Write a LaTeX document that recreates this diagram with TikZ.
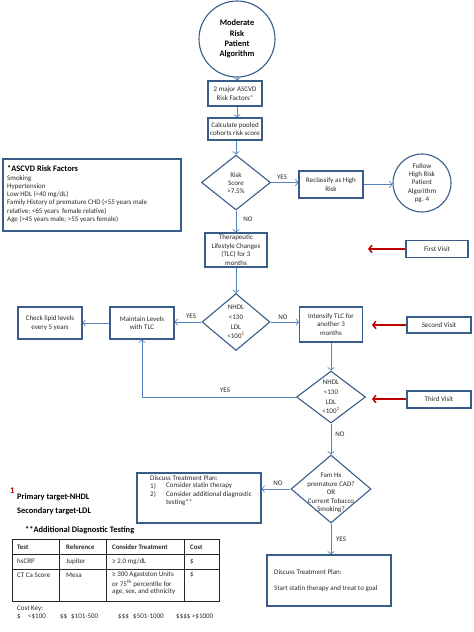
\documentclass[tikz,border=0pt]{standalone}
\usepackage{fontspec}
\setmainfont{Carlito}
\usetikzlibrary{shapes.geometric,arrows.meta}
\definecolor{boxc}{RGB}{56,93,138}
\definecolor{arrc}{RGB}{84,130,190}
\definecolor{redc}{RGB}{192,0,0}
\definecolor{txtc}{RGB}{40,40,40}
\begin{document}
\begin{tikzpicture}[x=1pt,y=-1pt,
  sm/.style={font=\fontsize{7}{8.4}\selectfont, text=txtc, inner sep=0pt},
  txt/.style={sm, align=center},
  boxn/.style={draw=boxc, line width=1.1pt, rectangle, inner sep=0pt, txt},
  circn/.style={draw=boxc, line width=1.1pt, circle, inner sep=0pt, txt},
  diam/.style={draw=boxc, line width=1.1pt, diamond, inner sep=0pt},
  arr/.style={draw=arrc, line width=0.7pt, -{Straight Barb[length=2.6pt,width=6.5pt]}},
  redarr/.style={draw=redc, line width=1.5pt, -{Straight Barb[length=3pt,width=7.5pt]}},
  lab/.style={sm},
  cell/.style={sm, anchor=west}
]
\useasboundingbox (0,0) rectangle (474,632);
% ---- main column
\node[circn, minimum size=76pt, font=\fontsize{8.4}{10.2}\selectfont\bfseries, text=black] (c1) at (237,39) {Moderate\\Risk\\Patient\\Algorithm};
\node[boxn, minimum width=54pt, minimum height=25pt] (b1) at (235,93.5) {2 major ASCVD\\Risk Factors*};
\node[boxn, minimum width=54pt, minimum height=22pt] (b2) at (235,129) {Calculate pooled\\cohorts risk score};
\node[diam, minimum width=69pt, minimum height=55pt] (d1) at (236,182.5) {};
\node[txt] at (236,183) {Risk\\Score\\>7.5\%};
\node[boxn, minimum width=64pt, minimum height=27pt] (b3) at (331,184.5) {Reclassify as High\\Risk};
\node[circn, minimum size=58pt] (c2) at (422,183) {Follow\\High Risk\\Patient\\Algorithm\\pg. 4};
\node[boxn, minimum width=62pt, minimum height=34pt, font=\fontsize{7}{8.7}\selectfont] (b4) at (236,250) {Therapeutic\\Lifestyle Changes\\(TLC) for 3\\months};
\node[diam, minimum width=68pt, minimum height=57pt] (d2) at (236,322) {};
\node[txt, font=\fontsize{7}{9.8}\selectfont] at (236,322) {NHDL\\<130\\LDL\\<100\textsuperscript{\color{redc}1}};
\node[boxn, minimum width=64pt, minimum height=32pt] (b5) at (142,323) {Maintain Levels\\with TLC};
\node[boxn, minimum width=64pt, minimum height=32pt] (b6) at (50,323) {Check lipid levels\\every 5 years};
\node[boxn, minimum width=63pt, minimum height=35pt] (b7) at (331,324.5) {Intensify TLC for\\another 3\\months};
\node[diam, minimum width=69pt, minimum height=52pt] (d3) at (331,397) {};
\node[txt, font=\fontsize{7}{9.8}\selectfont] at (331,397) {NHDL\\<130\\LDL\\<100\textsuperscript{\color{redc}1}};
\node[diam, minimum width=80pt, minimum height=68pt] (d4) at (331,489) {};
\node[txt, font=\fontsize{7}{8.6}\selectfont] at (331,493) {Fam Hx\\premature CAD?\\OR\\Current Tobacco\\Smoking?};
\node[boxn, minimum width=124pt, minimum height=50pt] (b8) at (199,498) {};
\node[cell] at (150,478) {Discuss Treatment Plan:};
\node[cell] at (150,486) {1)};
\node[cell] at (166,486) {Consider statin therapy};
\node[cell] at (150,494.5) {2)};
\node[cell] at (166,494.5) {Consider additional diagnostic};
\node[cell] at (166,503) {testing**};
\node[boxn, minimum width=124pt, minimum height=51pt] (b9) at (329,580.5) {};
\node[cell] at (274,572) {Discuss Treatment Plan:};
\node[cell] at (274,589) {Start statin therapy and treat to goal};
% ---- risk factor box
\node[boxn, minimum width=178pt, minimum height=72pt] (rf) at (92,195) {};
\node[anchor=west, inner sep=0pt, font=\fontsize{8.4}{10}\selectfont\bfseries] at (7,169) {*ASCVD Risk Factors};
\node[cell] at (7,178.3) {Smoking};
\node[cell] at (7,186.3) {Hypertension};
\node[cell] at (7,194.3) {Low HDL (<40 mg/dL)};
\node[cell] at (7,202.7) {Family History of premature CHD (<55 years male};
\node[cell] at (7,211.2) {relative; <65 years\ \ female relative)};
\node[cell] at (7,219.7) {Age (>45 years male; >55 years female)};
% ---- visit boxes
\node[boxn, minimum width=62pt, minimum height=17pt] (v1) at (437,249) {First Visit};
\node[boxn, minimum width=64pt, minimum height=16pt] (v2) at (439,325) {Second Visit};
\node[boxn, minimum width=64pt, minimum height=17pt] (v3) at (439,399.5) {Third Visit};
\coordinate (r1) at (368,249);
\coordinate (r2) at (372,325);
\coordinate (r3) at (372,399);
\draw[redarr] (v1.west) -- (r1);
\draw[redarr] (v2.west) -- (r2);
\draw[redarr] (v3.west |- r3) -- (r3);
% ---- connectors
\draw[arr] (c1.south) -- (c1.south |- b1.north);
\draw[arr] (b1.south -| c1.south) -- (c1.south |- b2.north);
\draw[arr] (b2.south -| d1.north) -- (d1.north);
\draw[arr] (d1.east) -- (d1.east -| b3.west);
\draw[arr] (b3.east) -- (b3.east -| c2.west);
\draw[arr] (d1.south) -- (d1.south |- b4.north);
\draw[arr] (b4.south -| d2.north) -- (d2.north);
\draw[arr] (d2.east) -- (d2.east -| b7.west);
\draw[arr] (d2.west) -- (d2.west -| b5.east);
\draw[arr] (b5.west) -- (b6.east);
\draw[arr] (b7.south -| d3.north) -- (d3.north);
\draw[arr] (d3.west) -| (b5.south);
\draw[arr] (d3.south) -- (d4.north);
\draw[arr] (d4.west) -- (d4.west -| b8.east);
\draw[arr] (d4.south) -- (d4.south |- b9.north);
% ---- connector labels
\node[lab] at (282,177.5) {YES};
\node[lab] at (248,219) {NO};
\node[lab] at (283,317) {NO};
\node[lab] at (191,316.5) {YES};
\node[lab] at (225,390) {YES};
\node[lab] at (340,434.5) {NO};
\node[lab] at (278,483) {NO};
\node[lab] at (341,539.5) {YES};
% ---- footnote and table
\node[anchor=west, inner sep=0pt, font=\fontsize{8.7}{10}\selectfont\bfseries, text=redc] at (10,491) {1};
\node[anchor=west, inner sep=0pt, font=\fontsize{8.4}{10}\selectfont\bfseries] at (17,497.5) {Primary target-NHDL};
\node[anchor=west, inner sep=0pt, font=\fontsize{8.4}{10}\selectfont\bfseries] at (17,511) {Secondary target-LDL};
\node[anchor=west, inner sep=0pt, font=\fontsize{8.4}{10}\selectfont\bfseries] at (25,530) {**Additional Diagnostic Testing};
\draw[line width=0.8pt, draw=black!85] (12,539) rectangle (219,601);
\draw[line width=0.8pt, draw=black!85] (12,554) -- (219,554) (12,569) -- (219,569);
\draw[line width=0.8pt, draw=black!85] (59,539) -- (59,601) (106,539) -- (106,601) (184,539) -- (184,601);
\begin{scope}[every node/.style={cell, font=\fontsize{6.8}{8}\selectfont\bfseries}]
\node at (17,547) {Test};
\node at (66,547) {Reference};
\node at (112,547) {Consider Treatment};
\node at (190,547) {Cost};
\end{scope}
\node[cell] at (17,561.5) {hsCRP};
\node[cell] at (66,561.5) {Jupiter};
\node[cell] at (112,561.5) {≥ 2.0 mg/dL};
\node[cell] at (190,561.5) {\$};
\node[cell] at (17,575) {CT Ca Score};
\node[cell] at (66,575) {Mesa};
\node[cell] at (112,575) {≥ 300 Agastston Units};
\node[cell] at (112,583.5) {or 75\textsuperscript{th} percentile for};
\node[cell] at (112,592) {age, sex, and ethnicity};
\node[cell] at (190,575) {\$};
\node[cell] at (17,608.5) {Cost Key:};
\node[cell] at (17,617) {\$};
\node[cell] at (28,617) {<\$100};
\node[cell] at (60,617) {\$\$};
\node[cell] at (71,617) {\$101-500};
\node[cell] at (118,617) {\$\$\$};
\node[cell] at (133,617) {\$501-1000};
\node[cell] at (176,617) {\$\$\$\$ >\$1000};
\end{tikzpicture}
\end{document}
